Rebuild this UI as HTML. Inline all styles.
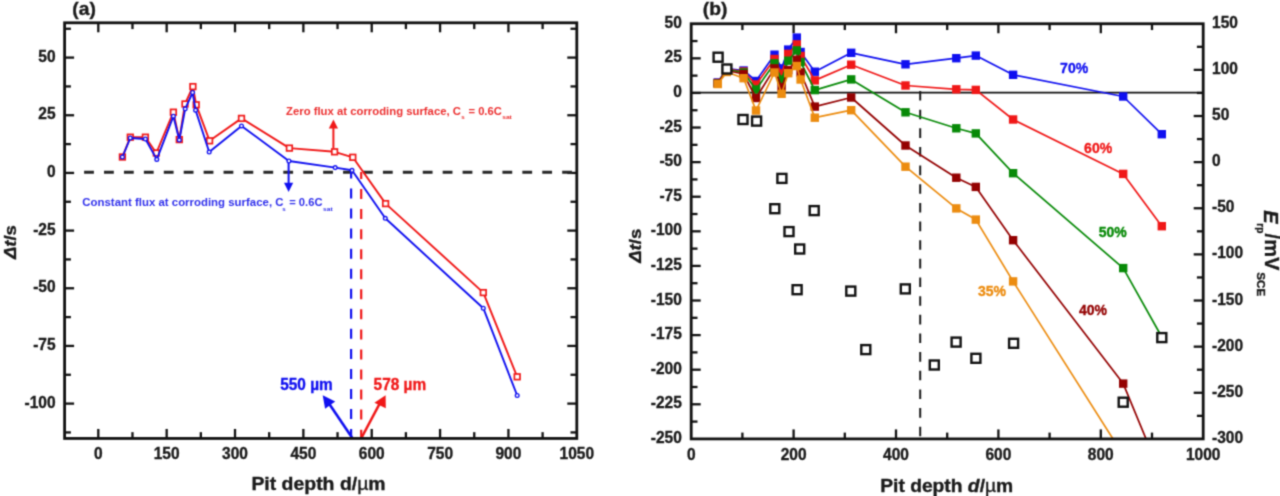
<!DOCTYPE html>
<html><head><meta charset="utf-8"><title>Pit depth charts</title>
<style>
html,body{margin:0;padding:0;background:#fff;}
body{width:1280px;height:496px;overflow:hidden;}
svg{display:block;}
text{font-family:"Liberation Sans", sans-serif;font-weight:bold;stroke-width:0.35px;}
.tk{stroke:#111;stroke-width:2.3;}
</style></head><body>
<svg width="1280" height="496" viewBox="0 0 1280 496">
<defs><filter id="soft" x="0" y="0" width="1280" height="496" filterUnits="userSpaceOnUse" color-interpolation-filters="sRGB"><feConvolveMatrix order="3" kernelMatrix="0.0361 0.1178 0.0361 0.1178 0.3844 0.1178 0.0361 0.1178 0.0361" divisor="1" edgeMode="duplicate"/></filter></defs>
<rect width="1280" height="496" fill="#fff"/>
<g filter="url(#soft)">
<rect width="1280" height="496" fill="#fff"/>
<g id="pa">
<line x1="98.3" y1="438.45" x2="98.3" y2="428.95" class="tk"/>
<line x1="98.3" y1="22.8" x2="98.3" y2="32.3" class="tk"/>
<text transform="translate(98.3,458.83) scale(0.97,1)" text-anchor="middle" font-size="16" fill="#1a1a1a" stroke="#1a1a1a">0</text>
<line x1="166.66" y1="438.45" x2="166.66" y2="428.95" class="tk"/>
<line x1="166.66" y1="22.8" x2="166.66" y2="32.3" class="tk"/>
<text transform="translate(166.66,458.83) scale(0.97,1)" text-anchor="middle" font-size="16" fill="#1a1a1a" stroke="#1a1a1a">150</text>
<line x1="235.01" y1="438.45" x2="235.01" y2="428.95" class="tk"/>
<line x1="235.01" y1="22.8" x2="235.01" y2="32.3" class="tk"/>
<text transform="translate(235.01,458.83) scale(0.97,1)" text-anchor="middle" font-size="16" fill="#1a1a1a" stroke="#1a1a1a">300</text>
<line x1="303.37" y1="438.45" x2="303.37" y2="428.95" class="tk"/>
<line x1="303.37" y1="22.8" x2="303.37" y2="32.3" class="tk"/>
<text transform="translate(303.37,458.83) scale(0.97,1)" text-anchor="middle" font-size="16" fill="#1a1a1a" stroke="#1a1a1a">450</text>
<line x1="371.72" y1="438.45" x2="371.72" y2="428.95" class="tk"/>
<line x1="371.72" y1="22.8" x2="371.72" y2="32.3" class="tk"/>
<text transform="translate(371.72,458.83) scale(0.97,1)" text-anchor="middle" font-size="16" fill="#1a1a1a" stroke="#1a1a1a">600</text>
<line x1="440.07" y1="438.45" x2="440.07" y2="428.95" class="tk"/>
<line x1="440.07" y1="22.8" x2="440.07" y2="32.3" class="tk"/>
<text transform="translate(440.07,458.83) scale(0.97,1)" text-anchor="middle" font-size="16" fill="#1a1a1a" stroke="#1a1a1a">750</text>
<line x1="508.43" y1="438.45" x2="508.43" y2="428.95" class="tk"/>
<line x1="508.43" y1="22.8" x2="508.43" y2="32.3" class="tk"/>
<text transform="translate(508.43,458.83) scale(0.97,1)" text-anchor="middle" font-size="16" fill="#1a1a1a" stroke="#1a1a1a">900</text>
<text transform="translate(576.78,458.83) scale(0.97,1)" text-anchor="middle" font-size="16" fill="#1a1a1a" stroke="#1a1a1a">1050</text>
<line x1="132.48" y1="438.45" x2="132.48" y2="432.15" class="tk"/>
<line x1="132.48" y1="22.8" x2="132.48" y2="29.1" class="tk"/>
<line x1="200.83" y1="438.45" x2="200.83" y2="432.15" class="tk"/>
<line x1="200.83" y1="22.8" x2="200.83" y2="29.1" class="tk"/>
<line x1="269.19" y1="438.45" x2="269.19" y2="432.15" class="tk"/>
<line x1="269.19" y1="22.8" x2="269.19" y2="29.1" class="tk"/>
<line x1="337.54" y1="438.45" x2="337.54" y2="432.15" class="tk"/>
<line x1="337.54" y1="22.8" x2="337.54" y2="29.1" class="tk"/>
<line x1="405.9" y1="438.45" x2="405.9" y2="432.15" class="tk"/>
<line x1="405.9" y1="22.8" x2="405.9" y2="29.1" class="tk"/>
<line x1="474.25" y1="438.45" x2="474.25" y2="432.15" class="tk"/>
<line x1="474.25" y1="22.8" x2="474.25" y2="29.1" class="tk"/>
<line x1="542.61" y1="438.45" x2="542.61" y2="432.15" class="tk"/>
<line x1="542.61" y1="22.8" x2="542.61" y2="29.1" class="tk"/>
<line x1="64.6" y1="403.6" x2="74.1" y2="403.6" class="tk"/>
<line x1="576.8" y1="403.6" x2="567.3" y2="403.6" class="tk"/>
<text transform="translate(55.6,407.63) scale(0.97,1)" text-anchor="end" font-size="16" fill="#1a1a1a" stroke="#1a1a1a">-100</text>
<line x1="64.6" y1="345.93" x2="74.1" y2="345.93" class="tk"/>
<line x1="576.8" y1="345.93" x2="567.3" y2="345.93" class="tk"/>
<text transform="translate(55.6,349.96) scale(0.97,1)" text-anchor="end" font-size="16" fill="#1a1a1a" stroke="#1a1a1a">-75</text>
<line x1="64.6" y1="288.26" x2="74.1" y2="288.26" class="tk"/>
<line x1="576.8" y1="288.26" x2="567.3" y2="288.26" class="tk"/>
<text transform="translate(55.6,292.3) scale(0.97,1)" text-anchor="end" font-size="16" fill="#1a1a1a" stroke="#1a1a1a">-50</text>
<line x1="64.6" y1="230.6" x2="74.1" y2="230.6" class="tk"/>
<line x1="576.8" y1="230.6" x2="567.3" y2="230.6" class="tk"/>
<text transform="translate(55.6,234.63) scale(0.97,1)" text-anchor="end" font-size="16" fill="#1a1a1a" stroke="#1a1a1a">-25</text>
<line x1="64.6" y1="172.93" x2="74.1" y2="172.93" class="tk"/>
<line x1="576.8" y1="172.93" x2="567.3" y2="172.93" class="tk"/>
<text transform="translate(55.6,176.96) scale(0.97,1)" text-anchor="end" font-size="16" fill="#1a1a1a" stroke="#1a1a1a">0</text>
<line x1="64.6" y1="115.26" x2="74.1" y2="115.26" class="tk"/>
<line x1="576.8" y1="115.26" x2="567.3" y2="115.26" class="tk"/>
<text transform="translate(55.6,119.29) scale(0.97,1)" text-anchor="end" font-size="16" fill="#1a1a1a" stroke="#1a1a1a">25</text>
<line x1="64.6" y1="57.59" x2="74.1" y2="57.59" class="tk"/>
<line x1="576.8" y1="57.59" x2="567.3" y2="57.59" class="tk"/>
<text transform="translate(55.6,61.63) scale(0.97,1)" text-anchor="end" font-size="16" fill="#1a1a1a" stroke="#1a1a1a">50</text>
<line x1="64.6" y1="432.43" x2="70.89999999999999" y2="432.43" class="tk"/>
<line x1="576.8" y1="432.43" x2="570.5" y2="432.43" class="tk"/>
<line x1="64.6" y1="374.77" x2="70.89999999999999" y2="374.77" class="tk"/>
<line x1="576.8" y1="374.77" x2="570.5" y2="374.77" class="tk"/>
<line x1="64.6" y1="317.1" x2="70.89999999999999" y2="317.1" class="tk"/>
<line x1="576.8" y1="317.1" x2="570.5" y2="317.1" class="tk"/>
<line x1="64.6" y1="259.43" x2="70.89999999999999" y2="259.43" class="tk"/>
<line x1="576.8" y1="259.43" x2="570.5" y2="259.43" class="tk"/>
<line x1="64.6" y1="201.76" x2="70.89999999999999" y2="201.76" class="tk"/>
<line x1="576.8" y1="201.76" x2="570.5" y2="201.76" class="tk"/>
<line x1="64.6" y1="144.1" x2="70.89999999999999" y2="144.1" class="tk"/>
<line x1="576.8" y1="144.1" x2="570.5" y2="144.1" class="tk"/>
<line x1="64.6" y1="86.43" x2="70.89999999999999" y2="86.43" class="tk"/>
<line x1="576.8" y1="86.43" x2="570.5" y2="86.43" class="tk"/>
<line x1="64.6" y1="28.76" x2="70.89999999999999" y2="28.76" class="tk"/>
<line x1="576.8" y1="28.76" x2="570.5" y2="28.76" class="tk"/>
<line x1="84.1" y1="172.2" x2="575.8" y2="172.2" stroke="#262626" stroke-width="3" stroke-dasharray="9.8 10.12"/>
<line x1="351.1" y1="170" x2="351.1" y2="438.45" stroke="#1010f0" stroke-width="2.2" stroke-dasharray="10 10.05" stroke-dashoffset="1.55"/>
<line x1="361.2" y1="172" x2="361.2" y2="438.45" stroke="#f01818" stroke-width="2.2" stroke-dasharray="10 10.05" stroke-dashoffset="3"/>
<polyline points="122.4,157 130.3,137.2 145.4,137.2 156.3,153 173.4,112.2 179.3,139.6 185,104 192.9,86.6 196.2,104.8 209.6,140.8 241.5,118.4 289.4,148.1 334.6,151.8 352.8,157.3 385.6,203.6 483.3,292.6 517.2,376.8" fill="none" stroke="#f01818" stroke-width="1.9" stroke-linejoin="round"/>
<rect x="119.6" y="154.2" width="5.6" height="5.6" fill="#fff" stroke="#f01818" stroke-width="1.7"/>
<rect x="127.5" y="134.4" width="5.6" height="5.6" fill="#fff" stroke="#f01818" stroke-width="1.7"/>
<rect x="142.6" y="134.4" width="5.6" height="5.6" fill="#fff" stroke="#f01818" stroke-width="1.7"/>
<rect x="153.5" y="150.2" width="5.6" height="5.6" fill="#fff" stroke="#f01818" stroke-width="1.7"/>
<rect x="170.6" y="109.4" width="5.6" height="5.6" fill="#fff" stroke="#f01818" stroke-width="1.7"/>
<rect x="176.5" y="136.8" width="5.6" height="5.6" fill="#fff" stroke="#f01818" stroke-width="1.7"/>
<rect x="182.2" y="101.2" width="5.6" height="5.6" fill="#fff" stroke="#f01818" stroke-width="1.7"/>
<rect x="190.1" y="83.8" width="5.6" height="5.6" fill="#fff" stroke="#f01818" stroke-width="1.7"/>
<rect x="193.4" y="102" width="5.6" height="5.6" fill="#fff" stroke="#f01818" stroke-width="1.7"/>
<rect x="206.8" y="138" width="5.6" height="5.6" fill="#fff" stroke="#f01818" stroke-width="1.7"/>
<rect x="238.7" y="115.6" width="5.6" height="5.6" fill="#fff" stroke="#f01818" stroke-width="1.7"/>
<rect x="286.6" y="145.3" width="5.6" height="5.6" fill="#fff" stroke="#f01818" stroke-width="1.7"/>
<rect x="331.8" y="149" width="5.6" height="5.6" fill="#fff" stroke="#f01818" stroke-width="1.7"/>
<rect x="350" y="154.5" width="5.6" height="5.6" fill="#fff" stroke="#f01818" stroke-width="1.7"/>
<rect x="382.8" y="200.8" width="5.6" height="5.6" fill="#fff" stroke="#f01818" stroke-width="1.7"/>
<rect x="480.5" y="289.8" width="5.6" height="5.6" fill="#fff" stroke="#f01818" stroke-width="1.7"/>
<rect x="514.4" y="374" width="5.6" height="5.6" fill="#fff" stroke="#f01818" stroke-width="1.7"/>
<polyline points="122.4,157 130.3,138 145.4,139 156.8,159.4 173.4,116.2 179.3,140 185.2,108.8 192.6,92.5 195.6,110.2 209.2,152 241.5,125.9 288.9,161 335.2,167.6 352,170.3 385.3,218.3 483.3,308.2 517.2,395.5" fill="none" stroke="#1010f0" stroke-width="1.9" stroke-linejoin="round"/>
<circle cx="122.4" cy="157" r="1.85" fill="#fff" stroke="#1010f0" stroke-width="1.35"/>
<circle cx="130.3" cy="138" r="1.85" fill="#fff" stroke="#1010f0" stroke-width="1.35"/>
<circle cx="145.4" cy="139" r="1.85" fill="#fff" stroke="#1010f0" stroke-width="1.35"/>
<circle cx="156.8" cy="159.4" r="1.85" fill="#fff" stroke="#1010f0" stroke-width="1.35"/>
<circle cx="173.4" cy="116.2" r="1.85" fill="#fff" stroke="#1010f0" stroke-width="1.35"/>
<circle cx="179.3" cy="140" r="1.85" fill="#fff" stroke="#1010f0" stroke-width="1.35"/>
<circle cx="185.2" cy="108.8" r="1.85" fill="#fff" stroke="#1010f0" stroke-width="1.35"/>
<circle cx="192.6" cy="92.5" r="1.85" fill="#fff" stroke="#1010f0" stroke-width="1.35"/>
<circle cx="195.6" cy="110.2" r="1.85" fill="#fff" stroke="#1010f0" stroke-width="1.35"/>
<circle cx="209.2" cy="152" r="1.85" fill="#fff" stroke="#1010f0" stroke-width="1.35"/>
<circle cx="241.5" cy="125.9" r="1.85" fill="#fff" stroke="#1010f0" stroke-width="1.35"/>
<circle cx="288.9" cy="161" r="1.85" fill="#fff" stroke="#1010f0" stroke-width="1.35"/>
<circle cx="335.2" cy="167.6" r="1.85" fill="#fff" stroke="#1010f0" stroke-width="1.35"/>
<circle cx="352" cy="170.3" r="1.85" fill="#fff" stroke="#1010f0" stroke-width="1.35"/>
<circle cx="385.3" cy="218.3" r="1.85" fill="#fff" stroke="#1010f0" stroke-width="1.35"/>
<circle cx="483.3" cy="308.2" r="1.85" fill="#fff" stroke="#1010f0" stroke-width="1.35"/>
<circle cx="517.2" cy="395.5" r="1.85" fill="#fff" stroke="#1010f0" stroke-width="1.35"/>
<line x1="333.4" y1="148.5" x2="333.4" y2="127" stroke="#f01818" stroke-width="2"/>
<polygon points="333.4,119.6 328.8,128.6 338,128.6" fill="#f01818"/>
<line x1="288.6" y1="163" x2="288.6" y2="184" stroke="#1010f0" stroke-width="2"/>
<polygon points="288.6,192 284,182.8 293.2,182.8" fill="#1010f0"/>
<line x1="352.3" y1="438" x2="329" y2="403.5" stroke="#1010f0" stroke-width="2.6"/>
<polygon points="322.7,395.3 335.2,401.6 325.1,408.8" fill="#1010f0"/>
<line x1="361.4" y1="438" x2="380" y2="403" stroke="#f01818" stroke-width="2.6"/>
<polygon points="385.6,395.3 385.8,408.3 374.4,402.8" fill="#f01818"/>
<text x="286.0" y="114.8" font-size="11.2" fill="#ec3030" stroke="none" textLength="175.0" lengthAdjust="spacingAndGlyphs">Zero flux at corroding surface, C</text>
<text x="461.3" y="119.1" font-size="6.2" fill="#ec3030" stroke="none">s</text>
<text x="468.5" y="114.8" font-size="11.2" fill="#ec3030" stroke="none">= 0.6C</text>
<text x="502.2" y="119.1" font-size="6.2" fill="#ec3030" stroke="none" textLength="9.6" lengthAdjust="spacingAndGlyphs">sat</text>
<text x="82.3" y="206.2" font-size="11.2" fill="#3030ec" stroke="none" textLength="201.2" lengthAdjust="spacingAndGlyphs">Constant flux at corroding surface, C</text>
<text x="282.2" y="210.5" font-size="6.2" fill="#3030ec" stroke="none">s</text>
<text x="289.2" y="206.2" font-size="11.2" fill="#3030ec" stroke="none">= 0.6C</text>
<text x="323.1" y="210.5" font-size="6.2" fill="#3030ec" stroke="none" textLength="9.6" lengthAdjust="spacingAndGlyphs">sat</text>
<text x="280.2" y="389.7" font-size="15.6" fill="#1010f0" textLength="52.5" lengthAdjust="spacingAndGlyphs" stroke="#1010f0">550 &#181;m</text>
<text x="373.6" y="389.7" font-size="15.6" fill="#f01818" textLength="52.5" lengthAdjust="spacingAndGlyphs" stroke="#f01818">578 &#181;m</text>
<rect x="64.6" y="22.8" width="512.1999999999999" height="415.65" fill="none" stroke="#111" stroke-width="2.8"/>
<text transform="translate(251.4,490.3) scale(1.08,1)" font-size="18" fill="#1a1a1a" stroke="#1a1a1a">Pit depth d/<tspan font-weight="normal">&#181;</tspan>m</text>
<text transform="translate(16.3,259.1) rotate(-90)" font-size="16" fill="#1a1a1a" textLength="34" lengthAdjust="spacingAndGlyphs" stroke="#1a1a1a"><tspan font-style="italic">&#916;t</tspan>/s</text>
<text transform="translate(72.3,15.4) scale(1.1,1)" font-size="17.5" fill="#1a1a1a" stroke="#1a1a1a">(a)</text>
</g>
<defs><clipPath id="cb"><rect x="691.2" y="23.75" width="512.0" height="415.15"/></clipPath></defs>
<g id="pb">
<text transform="translate(691.2,459.53) scale(0.97,1)" text-anchor="middle" font-size="16" fill="#1a1a1a" stroke="#1a1a1a">0</text>
<line x1="793.6" y1="438.9" x2="793.6" y2="429.4" class="tk"/>
<line x1="793.6" y1="23.75" x2="793.6" y2="33.25" class="tk"/>
<text transform="translate(793.6,459.53) scale(0.97,1)" text-anchor="middle" font-size="16" fill="#1a1a1a" stroke="#1a1a1a">200</text>
<line x1="896" y1="438.9" x2="896" y2="429.4" class="tk"/>
<line x1="896" y1="23.75" x2="896" y2="33.25" class="tk"/>
<text transform="translate(896,459.53) scale(0.97,1)" text-anchor="middle" font-size="16" fill="#1a1a1a" stroke="#1a1a1a">400</text>
<line x1="998.4" y1="438.9" x2="998.4" y2="429.4" class="tk"/>
<line x1="998.4" y1="23.75" x2="998.4" y2="33.25" class="tk"/>
<text transform="translate(998.4,459.53) scale(0.97,1)" text-anchor="middle" font-size="16" fill="#1a1a1a" stroke="#1a1a1a">600</text>
<line x1="1100.8" y1="438.9" x2="1100.8" y2="429.4" class="tk"/>
<line x1="1100.8" y1="23.75" x2="1100.8" y2="33.25" class="tk"/>
<text transform="translate(1100.8,459.53) scale(0.97,1)" text-anchor="middle" font-size="16" fill="#1a1a1a" stroke="#1a1a1a">800</text>
<text transform="translate(1203.2,459.53) scale(0.97,1)" text-anchor="middle" font-size="16" fill="#1a1a1a" stroke="#1a1a1a">1000</text>
<line x1="742.4" y1="438.9" x2="742.4" y2="432.6" class="tk"/>
<line x1="742.4" y1="23.75" x2="742.4" y2="30.05" class="tk"/>
<line x1="844.8" y1="438.9" x2="844.8" y2="432.6" class="tk"/>
<line x1="844.8" y1="23.75" x2="844.8" y2="30.05" class="tk"/>
<line x1="947.2" y1="438.9" x2="947.2" y2="432.6" class="tk"/>
<line x1="947.2" y1="23.75" x2="947.2" y2="30.05" class="tk"/>
<line x1="1049.6" y1="438.9" x2="1049.6" y2="432.6" class="tk"/>
<line x1="1049.6" y1="23.75" x2="1049.6" y2="30.05" class="tk"/>
<line x1="1152" y1="438.9" x2="1152" y2="432.6" class="tk"/>
<line x1="1152" y1="23.75" x2="1152" y2="30.05" class="tk"/>
<text transform="translate(681.8,442.92) scale(0.97,1)" text-anchor="end" font-size="16" fill="#1a1a1a" stroke="#1a1a1a">-250</text>
<line x1="691.2" y1="404.29" x2="700.7" y2="404.29" class="tk"/>
<text transform="translate(681.8,408.33) scale(0.97,1)" text-anchor="end" font-size="16" fill="#1a1a1a" stroke="#1a1a1a">-225</text>
<line x1="691.2" y1="369.7" x2="700.7" y2="369.7" class="tk"/>
<text transform="translate(681.8,373.73) scale(0.97,1)" text-anchor="end" font-size="16" fill="#1a1a1a" stroke="#1a1a1a">-200</text>
<line x1="691.2" y1="335.11" x2="700.7" y2="335.11" class="tk"/>
<text transform="translate(681.8,339.14) scale(0.97,1)" text-anchor="end" font-size="16" fill="#1a1a1a" stroke="#1a1a1a">-175</text>
<line x1="691.2" y1="300.51" x2="700.7" y2="300.51" class="tk"/>
<text transform="translate(681.8,304.54) scale(0.97,1)" text-anchor="end" font-size="16" fill="#1a1a1a" stroke="#1a1a1a">-150</text>
<line x1="691.2" y1="265.91" x2="700.7" y2="265.91" class="tk"/>
<text transform="translate(681.8,269.95) scale(0.97,1)" text-anchor="end" font-size="16" fill="#1a1a1a" stroke="#1a1a1a">-125</text>
<line x1="691.2" y1="231.32" x2="700.7" y2="231.32" class="tk"/>
<text transform="translate(681.8,235.35) scale(0.97,1)" text-anchor="end" font-size="16" fill="#1a1a1a" stroke="#1a1a1a">-100</text>
<line x1="691.2" y1="196.72" x2="700.7" y2="196.72" class="tk"/>
<text transform="translate(681.8,200.76) scale(0.97,1)" text-anchor="end" font-size="16" fill="#1a1a1a" stroke="#1a1a1a">-75</text>
<line x1="691.2" y1="162.13" x2="700.7" y2="162.13" class="tk"/>
<text transform="translate(681.8,166.16) scale(0.97,1)" text-anchor="end" font-size="16" fill="#1a1a1a" stroke="#1a1a1a">-50</text>
<line x1="691.2" y1="127.53" x2="700.7" y2="127.53" class="tk"/>
<text transform="translate(681.8,131.57) scale(0.97,1)" text-anchor="end" font-size="16" fill="#1a1a1a" stroke="#1a1a1a">-25</text>
<line x1="691.2" y1="92.94" x2="700.7" y2="92.94" class="tk"/>
<text transform="translate(681.8,96.97) scale(0.97,1)" text-anchor="end" font-size="16" fill="#1a1a1a" stroke="#1a1a1a">0</text>
<line x1="691.2" y1="58.34" x2="700.7" y2="58.34" class="tk"/>
<text transform="translate(681.8,62.38) scale(0.97,1)" text-anchor="end" font-size="16" fill="#1a1a1a" stroke="#1a1a1a">25</text>
<text transform="translate(681.8,27.78) scale(0.97,1)" text-anchor="end" font-size="16" fill="#1a1a1a" stroke="#1a1a1a">50</text>
<line x1="691.2" y1="421.59" x2="697.5" y2="421.59" class="tk"/>
<line x1="691.2" y1="387" x2="697.5" y2="387" class="tk"/>
<line x1="691.2" y1="352.4" x2="697.5" y2="352.4" class="tk"/>
<line x1="691.2" y1="317.81" x2="697.5" y2="317.81" class="tk"/>
<line x1="691.2" y1="283.21" x2="697.5" y2="283.21" class="tk"/>
<line x1="691.2" y1="248.62" x2="697.5" y2="248.62" class="tk"/>
<line x1="691.2" y1="214.02" x2="697.5" y2="214.02" class="tk"/>
<line x1="691.2" y1="179.43" x2="697.5" y2="179.43" class="tk"/>
<line x1="691.2" y1="144.83" x2="697.5" y2="144.83" class="tk"/>
<line x1="691.2" y1="110.24" x2="697.5" y2="110.24" class="tk"/>
<line x1="691.2" y1="75.64" x2="697.5" y2="75.64" class="tk"/>
<line x1="691.2" y1="41.05" x2="697.5" y2="41.05" class="tk"/>
<text transform="translate(1212,442.93) scale(0.97,1)" text-anchor="start" font-size="16" fill="#1a1a1a" stroke="#1a1a1a">-300</text>
<line x1="1203.2" y1="392.77" x2="1193.7" y2="392.77" class="tk"/>
<text transform="translate(1212,396.81) scale(0.97,1)" text-anchor="start" font-size="16" fill="#1a1a1a" stroke="#1a1a1a">-250</text>
<line x1="1203.2" y1="346.65" x2="1193.7" y2="346.65" class="tk"/>
<text transform="translate(1212,350.68) scale(0.97,1)" text-anchor="start" font-size="16" fill="#1a1a1a" stroke="#1a1a1a">-200</text>
<line x1="1203.2" y1="300.52" x2="1193.7" y2="300.52" class="tk"/>
<text transform="translate(1212,304.55) scale(0.97,1)" text-anchor="start" font-size="16" fill="#1a1a1a" stroke="#1a1a1a">-150</text>
<line x1="1203.2" y1="254.39" x2="1193.7" y2="254.39" class="tk"/>
<text transform="translate(1212,258.42) scale(0.97,1)" text-anchor="start" font-size="16" fill="#1a1a1a" stroke="#1a1a1a">-100</text>
<line x1="1203.2" y1="208.26" x2="1193.7" y2="208.26" class="tk"/>
<text transform="translate(1212,212.29) scale(0.97,1)" text-anchor="start" font-size="16" fill="#1a1a1a" stroke="#1a1a1a">-50</text>
<line x1="1203.2" y1="162.13" x2="1193.7" y2="162.13" class="tk"/>
<text transform="translate(1212,166.17) scale(0.97,1)" text-anchor="start" font-size="16" fill="#1a1a1a" stroke="#1a1a1a">0</text>
<line x1="1203.2" y1="116.01" x2="1193.7" y2="116.01" class="tk"/>
<text transform="translate(1212,120.04) scale(0.97,1)" text-anchor="start" font-size="16" fill="#1a1a1a" stroke="#1a1a1a">50</text>
<line x1="1203.2" y1="69.88" x2="1193.7" y2="69.88" class="tk"/>
<text transform="translate(1212,73.91) scale(0.97,1)" text-anchor="start" font-size="16" fill="#1a1a1a" stroke="#1a1a1a">100</text>
<text transform="translate(1212,27.78) scale(0.97,1)" text-anchor="start" font-size="16" fill="#1a1a1a" stroke="#1a1a1a">150</text>
<line x1="1203.2" y1="415.84" x2="1196.9" y2="415.84" class="tk"/>
<line x1="1203.2" y1="369.71" x2="1196.9" y2="369.71" class="tk"/>
<line x1="1203.2" y1="323.58" x2="1196.9" y2="323.58" class="tk"/>
<line x1="1203.2" y1="277.45" x2="1196.9" y2="277.45" class="tk"/>
<line x1="1203.2" y1="231.33" x2="1196.9" y2="231.33" class="tk"/>
<line x1="1203.2" y1="185.2" x2="1196.9" y2="185.2" class="tk"/>
<line x1="1203.2" y1="139.07" x2="1196.9" y2="139.07" class="tk"/>
<line x1="1203.2" y1="92.94" x2="1196.9" y2="92.94" class="tk"/>
<line x1="1203.2" y1="46.81" x2="1196.9" y2="46.81" class="tk"/>
<line x1="691.2" y1="92.7" x2="1203.2" y2="92.7" stroke="#111" stroke-width="1.7"/>
<line x1="920.2" y1="91" x2="920.2" y2="438.9" stroke="#1a1a1a" stroke-width="2" stroke-dasharray="9.6 9.05"/>
<g clip-path="url(#cb)">
<polyline points="717.8,82.5 726.8,68.5 743.6,70.5 756,81 774.5,54.7 781.6,68.4 788.2,49.6 796.8,37.6 800.6,52 814.8,71.7 851.2,52.8 905.5,64.3 956.3,58.2 975.8,55.6 1013.1,74.8 1123.2,96.5 1161.8,134.2" fill="none" stroke="#1010f0" stroke-width="1.7" stroke-linejoin="round"/>
<rect x="713.6" y="78.3" width="8.4" height="8.4" fill="#1010f0"/>
<rect x="722.6" y="64.3" width="8.4" height="8.4" fill="#1010f0"/>
<rect x="739.4" y="66.3" width="8.4" height="8.4" fill="#1010f0"/>
<rect x="751.8" y="76.8" width="8.4" height="8.4" fill="#1010f0"/>
<rect x="770.3" y="50.5" width="8.4" height="8.4" fill="#1010f0"/>
<rect x="777.4" y="64.2" width="8.4" height="8.4" fill="#1010f0"/>
<rect x="784" y="45.4" width="8.4" height="8.4" fill="#1010f0"/>
<rect x="792.6" y="33.4" width="8.4" height="8.4" fill="#1010f0"/>
<rect x="796.4" y="47.8" width="8.4" height="8.4" fill="#1010f0"/>
<rect x="810.6" y="67.5" width="8.4" height="8.4" fill="#1010f0"/>
<rect x="847" y="48.6" width="8.4" height="8.4" fill="#1010f0"/>
<rect x="901.3" y="60.1" width="8.4" height="8.4" fill="#1010f0"/>
<rect x="952.1" y="54" width="8.4" height="8.4" fill="#1010f0"/>
<rect x="971.6" y="51.4" width="8.4" height="8.4" fill="#1010f0"/>
<rect x="1008.9" y="70.6" width="8.4" height="8.4" fill="#1010f0"/>
<rect x="1119" y="92.3" width="8.4" height="8.4" fill="#1010f0"/>
<rect x="1157.6" y="130" width="8.4" height="8.4" fill="#1010f0"/>
<polyline points="717.8,83 726.8,69 743.6,71.5 756,84.5 774.5,59 781.6,73.6 788.2,53.9 796.8,44.4 800.6,56 814.8,80.4 851.2,64.7 905.5,85.5 956.3,89.3 975.8,89.9 1013.1,119.5 1123.2,173.9 1161.8,226.2" fill="none" stroke="#f01818" stroke-width="1.7" stroke-linejoin="round"/>
<rect x="713.6" y="78.8" width="8.4" height="8.4" fill="#f01818"/>
<rect x="722.6" y="64.8" width="8.4" height="8.4" fill="#f01818"/>
<rect x="739.4" y="67.3" width="8.4" height="8.4" fill="#f01818"/>
<rect x="751.8" y="80.3" width="8.4" height="8.4" fill="#f01818"/>
<rect x="770.3" y="54.8" width="8.4" height="8.4" fill="#f01818"/>
<rect x="777.4" y="69.4" width="8.4" height="8.4" fill="#f01818"/>
<rect x="784" y="49.7" width="8.4" height="8.4" fill="#f01818"/>
<rect x="792.6" y="40.2" width="8.4" height="8.4" fill="#f01818"/>
<rect x="796.4" y="51.8" width="8.4" height="8.4" fill="#f01818"/>
<rect x="810.6" y="76.2" width="8.4" height="8.4" fill="#f01818"/>
<rect x="847" y="60.5" width="8.4" height="8.4" fill="#f01818"/>
<rect x="901.3" y="81.3" width="8.4" height="8.4" fill="#f01818"/>
<rect x="952.1" y="85.1" width="8.4" height="8.4" fill="#f01818"/>
<rect x="971.6" y="85.7" width="8.4" height="8.4" fill="#f01818"/>
<rect x="1008.9" y="115.3" width="8.4" height="8.4" fill="#f01818"/>
<rect x="1119" y="169.7" width="8.4" height="8.4" fill="#f01818"/>
<rect x="1157.6" y="222" width="8.4" height="8.4" fill="#f01818"/>
<polyline points="717.8,83.3 726.8,69.5 743.6,72.5 756,89.5 774.5,63.3 781.6,79.6 788.2,60.7 796.8,50.4 800.6,62 814.8,90.1 851.2,79.4 905.5,112.3 956.3,128.3 975.8,133.4 1013.1,173.2 1123.2,268.1 1161.8,337" fill="none" stroke="#088a08" stroke-width="1.7" stroke-linejoin="round"/>
<rect x="713.6" y="79.1" width="8.4" height="8.4" fill="#088a08"/>
<rect x="722.6" y="65.3" width="8.4" height="8.4" fill="#088a08"/>
<rect x="739.4" y="68.3" width="8.4" height="8.4" fill="#088a08"/>
<rect x="751.8" y="85.3" width="8.4" height="8.4" fill="#088a08"/>
<rect x="770.3" y="59.1" width="8.4" height="8.4" fill="#088a08"/>
<rect x="777.4" y="75.4" width="8.4" height="8.4" fill="#088a08"/>
<rect x="784" y="56.5" width="8.4" height="8.4" fill="#088a08"/>
<rect x="792.6" y="46.2" width="8.4" height="8.4" fill="#088a08"/>
<rect x="796.4" y="57.8" width="8.4" height="8.4" fill="#088a08"/>
<rect x="810.6" y="85.9" width="8.4" height="8.4" fill="#088a08"/>
<rect x="847" y="75.2" width="8.4" height="8.4" fill="#088a08"/>
<rect x="901.3" y="108.1" width="8.4" height="8.4" fill="#088a08"/>
<rect x="952.1" y="124.1" width="8.4" height="8.4" fill="#088a08"/>
<rect x="971.6" y="129.2" width="8.4" height="8.4" fill="#088a08"/>
<rect x="1008.9" y="169" width="8.4" height="8.4" fill="#088a08"/>
<rect x="1119" y="263.9" width="8.4" height="8.4" fill="#088a08"/>
<rect x="1157.6" y="332.8" width="8.4" height="8.4" fill="#088a08"/>
<polyline points="717.8,83.6 726.8,70.5 743.6,74 756,98 774.5,68.4 781.6,87.3 788.2,70.1 796.8,59.8 800.6,72.5 814.8,106.6 851.2,97.5 905.5,145.5 956.3,177.7 975.8,186.9 1013.1,240.2 1123.2,383.6 1161.8,477" fill="none" stroke="#940202" stroke-width="1.7" stroke-linejoin="round"/>
<rect x="713.6" y="79.4" width="8.4" height="8.4" fill="#940202"/>
<rect x="722.6" y="66.3" width="8.4" height="8.4" fill="#940202"/>
<rect x="739.4" y="69.8" width="8.4" height="8.4" fill="#940202"/>
<rect x="751.8" y="93.8" width="8.4" height="8.4" fill="#940202"/>
<rect x="770.3" y="64.2" width="8.4" height="8.4" fill="#940202"/>
<rect x="777.4" y="83.1" width="8.4" height="8.4" fill="#940202"/>
<rect x="784" y="65.9" width="8.4" height="8.4" fill="#940202"/>
<rect x="792.6" y="55.6" width="8.4" height="8.4" fill="#940202"/>
<rect x="796.4" y="68.3" width="8.4" height="8.4" fill="#940202"/>
<rect x="810.6" y="102.4" width="8.4" height="8.4" fill="#940202"/>
<rect x="847" y="93.3" width="8.4" height="8.4" fill="#940202"/>
<rect x="901.3" y="141.3" width="8.4" height="8.4" fill="#940202"/>
<rect x="952.1" y="173.5" width="8.4" height="8.4" fill="#940202"/>
<rect x="971.6" y="182.7" width="8.4" height="8.4" fill="#940202"/>
<rect x="1008.9" y="236" width="8.4" height="8.4" fill="#940202"/>
<rect x="1119" y="379.4" width="8.4" height="8.4" fill="#940202"/>
<polyline points="717.8,84 726.8,72 743.6,78.2 756,110.5 774.5,72.5 781.6,93.8 788.2,73.2 796.8,66 800.6,79.5 814.8,117.7 851.2,110.2 905.5,166.7 956.3,208.4 975.8,219.6 1013.1,281.4 1123.2,455 1161.8,520" fill="none" stroke="#ec8c10" stroke-width="1.7" stroke-linejoin="round"/>
<rect x="713.6" y="79.8" width="8.4" height="8.4" fill="#ec8c10"/>
<rect x="722.6" y="67.8" width="8.4" height="8.4" fill="#ec8c10"/>
<rect x="739.4" y="74" width="8.4" height="8.4" fill="#ec8c10"/>
<rect x="751.8" y="106.3" width="8.4" height="8.4" fill="#ec8c10"/>
<rect x="770.3" y="68.3" width="8.4" height="8.4" fill="#ec8c10"/>
<rect x="777.4" y="89.6" width="8.4" height="8.4" fill="#ec8c10"/>
<rect x="784" y="69" width="8.4" height="8.4" fill="#ec8c10"/>
<rect x="792.6" y="61.8" width="8.4" height="8.4" fill="#ec8c10"/>
<rect x="796.4" y="75.3" width="8.4" height="8.4" fill="#ec8c10"/>
<rect x="810.6" y="113.5" width="8.4" height="8.4" fill="#ec8c10"/>
<rect x="847" y="106" width="8.4" height="8.4" fill="#ec8c10"/>
<rect x="901.3" y="162.5" width="8.4" height="8.4" fill="#ec8c10"/>
<rect x="952.1" y="204.2" width="8.4" height="8.4" fill="#ec8c10"/>
<rect x="971.6" y="215.4" width="8.4" height="8.4" fill="#ec8c10"/>
<rect x="1008.9" y="277.2" width="8.4" height="8.4" fill="#ec8c10"/>
<rect x="713.6" y="52.7" width="9.0" height="9.0" fill="#fff" stroke="#111" stroke-width="2.4"/>
<rect x="722.4" y="64.5" width="9.0" height="9.0" fill="#fff" stroke="#111" stroke-width="2.4"/>
<rect x="738.5" y="115" width="9.0" height="9.0" fill="#fff" stroke="#111" stroke-width="2.4"/>
<rect x="752.1" y="116.6" width="9.0" height="9.0" fill="#fff" stroke="#111" stroke-width="2.4"/>
<rect x="770.3" y="204.2" width="9.0" height="9.0" fill="#fff" stroke="#111" stroke-width="2.4"/>
<rect x="777.4" y="173.9" width="9.0" height="9.0" fill="#fff" stroke="#111" stroke-width="2.4"/>
<rect x="784.5" y="227.1" width="9.0" height="9.0" fill="#fff" stroke="#111" stroke-width="2.4"/>
<rect x="792.6" y="285.2" width="9.0" height="9.0" fill="#fff" stroke="#111" stroke-width="2.4"/>
<rect x="795.2" y="244.5" width="9.0" height="9.0" fill="#fff" stroke="#111" stroke-width="2.4"/>
<rect x="809.7" y="206.1" width="9.0" height="9.0" fill="#fff" stroke="#111" stroke-width="2.4"/>
<rect x="846.3" y="286.6" width="9.0" height="9.0" fill="#fff" stroke="#111" stroke-width="2.4"/>
<rect x="861.3" y="345.1" width="9.0" height="9.0" fill="#fff" stroke="#111" stroke-width="2.4"/>
<rect x="900.8" y="284.4" width="9.0" height="9.0" fill="#fff" stroke="#111" stroke-width="2.4"/>
<rect x="929.8" y="360.5" width="9.0" height="9.0" fill="#fff" stroke="#111" stroke-width="2.4"/>
<rect x="951.6" y="337.6" width="9.0" height="9.0" fill="#fff" stroke="#111" stroke-width="2.4"/>
<rect x="971.4" y="353.8" width="9.0" height="9.0" fill="#fff" stroke="#111" stroke-width="2.4"/>
<rect x="1009.1" y="338.8" width="9.0" height="9.0" fill="#fff" stroke="#111" stroke-width="2.4"/>
<rect x="1118.7" y="397.7" width="9.0" height="9.0" fill="#fff" stroke="#111" stroke-width="2.4"/>
<rect x="1157.3" y="333.1" width="9.0" height="9.0" fill="#fff" stroke="#111" stroke-width="2.4"/>
</g>
<text x="1060.1" y="72.6" font-size="14" fill="#1010f0" stroke="#1010f0">70%</text>
<text x="1084.1" y="153.0" font-size="14" fill="#f01818" stroke="#f01818">60%</text>
<text x="1098.7" y="237.2" font-size="14" fill="#088a08" stroke="#088a08">50%</text>
<text x="1078.9" y="314.6" font-size="14" fill="#940202" stroke="#940202">40%</text>
<text x="977.9" y="296.0" font-size="14" fill="#ec8c10" stroke="#ec8c10">35%</text>
<rect x="691.2" y="23.75" width="512.0" height="415.15" fill="none" stroke="#111" stroke-width="2.8"/>
<text transform="translate(880.2,491.5) scale(1.07,1)" font-size="18" fill="#1a1a1a" stroke="#1a1a1a">Pit depth <tspan font-style="italic">d</tspan>/<tspan font-weight="normal">&#181;</tspan>m</text>
<text transform="translate(640.6,262.8) rotate(-90)" font-size="16" fill="#1a1a1a" textLength="34" lengthAdjust="spacingAndGlyphs" stroke="#1a1a1a"><tspan font-style="italic">&#916;t</tspan>/s</text>
<text transform="translate(702.8,15.4) scale(1.1,1)" font-size="17.5" fill="#1a1a1a" stroke="#1a1a1a">(b)</text>
<text transform="translate(1263.9,210.2) rotate(90)" font-size="20" fill="#1a1a1a" font-style="italic" stroke="#1a1a1a">E</text>
<text transform="translate(1256.8,223.3) rotate(90)" font-size="10" fill="#1a1a1a" stroke="#1a1a1a">rp</text>
<text transform="translate(1265.0,233.6) rotate(90)" font-size="20" fill="#1a1a1a" stroke="#1a1a1a">/mV</text>
<text transform="translate(1257.2,272.3) rotate(90)" font-size="11" fill="#1a1a1a" textLength="24" lengthAdjust="spacingAndGlyphs" stroke="#1a1a1a">SCE</text>
</g>
</g>
</svg>
</body></html>
